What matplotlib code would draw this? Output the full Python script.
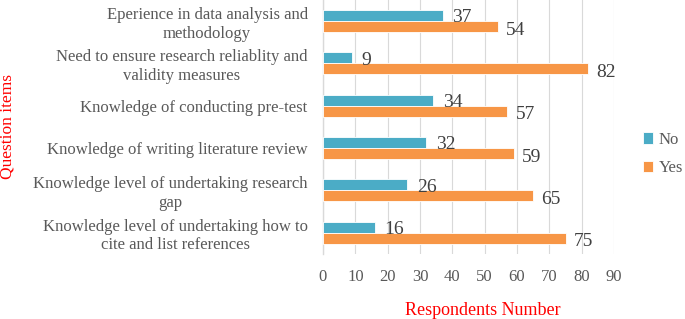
import matplotlib
matplotlib.use("Agg")
import matplotlib.pyplot as plt
import numpy as np

categories = [
    "Eperience in data analysis and\nmethodology",
    "Need to ensure research reliablity and\nvalidity measures",
    "Knowledge of conducting pre-test",
    "Knowledge of writing literature review",
    "Knowledge level of undertaking research\ngap",
    "Knowledge level of undertaking how to\ncite and list references",
]
no_vals = [37, 9, 34, 32, 26, 16]
yes_vals = [54, 82, 57, 59, 65, 75]
xticks = [0, 10, 20, 30, 40, 50, 60, 70, 80, 90]

plt.rcParams['font.family'] = ['Liberation Serif', 'DejaVu Serif']
gray = '#595959'
c_no = '#4BACC6'
c_yes = '#F79646'

fig = plt.figure(figsize=(6.85, 3.19), dpi=100)
ax = fig.add_axes([0.4715, 0.204, 0.425, 0.796])

y = np.arange(len(categories))
h = 0.26
ax.barh(y - h/2, no_vals, height=h, color=c_no, edgecolor='white', linewidth=0.6, label='No', zorder=3)
ax.barh(y + h/2, yes_vals, height=h, color=c_yes, edgecolor='white', linewidth=0.6, label='Yes', zorder=3)

for yi, v in zip(y, no_vals):
    ax.annotate(str(v), (v, yi - h/2), xytext=(7, -1.5), textcoords='offset points',
                ha='left', va='center', fontsize=14, color='#404040')
for yi, v in zip(y, yes_vals):
    ax.annotate(str(v), (v, yi + h/2), xytext=(6, -2.5), textcoords='offset points',
                ha='left', va='center', fontsize=14, color='#404040')

ax.set_ylim(len(categories) - 0.5, -0.5)
ax.set_xlim(0, 90)
ax.set_xticks(xticks)
ax.set_xticklabels([str(t) for t in xticks])
ax.set_yticks(y)
ax.set_yticklabels(categories, multialignment='center')
ax.tick_params(axis='both', length=0, colors=gray, labelsize=12)
ax.tick_params(axis='y', pad=11)
ax.tick_params(axis='x', pad=11)
ax.grid(axis='x', color='#D9D9D9', linewidth=0.8, zorder=0)
for s in ['top', 'right', 'bottom']:
    ax.spines[s].set_visible(False)
ax.spines['left'].set_color('#D9D9D9')
ax.spines['left'].set_linewidth(1.0)

fig.text(0.705, 0.028, 'Respondents Number', color='red', fontsize=13, ha='center', va='center')
fig.text(0.011, 0.602, 'Question items', color='red', fontsize=12.5, rotation=90, ha='center', va='center')

handles, labels = ax.get_legend_handles_labels()
leg = fig.legend(handles, labels, loc='center left', bbox_to_anchor=(0.938, 0.517), frameon=False,
                 fontsize=12, handlelength=0.65, handleheight=0.65, handletextpad=0.3, labelspacing=0.75,
                 borderpad=0, borderaxespad=0)
for t in leg.get_texts():
    t.set_color(gray)

fig.savefig('out.png', dpi=100)
